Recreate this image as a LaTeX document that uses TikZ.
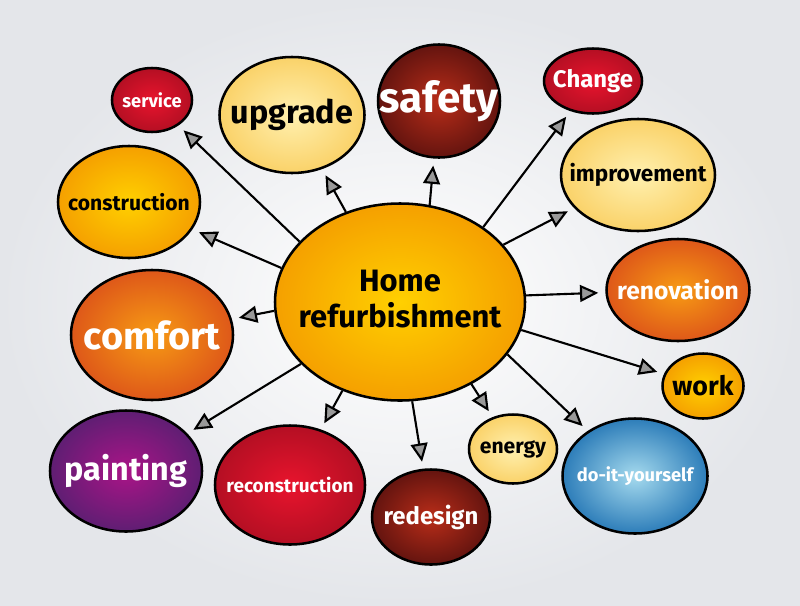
\documentclass[tikz,border=0pt]{standalone}
\usepackage{fontspec}
\setmainfont{Fira Sans}
\usetikzlibrary{shapes.geometric,arrows.meta}

\definecolor{homein}{RGB}{255,208,0}
\definecolor{homeout}{RGB}{245,160,0}
\definecolor{redin}{RGB}{232,20,45}
\definecolor{redout}{RGB}{180,15,35}
\definecolor{paleyin}{RGB}{255,240,175}
\definecolor{paleyout}{RGB}{250,210,105}
\definecolor{brownin}{RGB}{185,45,25}
\definecolor{brownout}{RGB}{100,20,15}
\definecolor{orangein}{RGB}{247,155,20}
\definecolor{orangeout}{RGB}{222,88,25}
\definecolor{purplein}{RGB}{170,20,135}
\definecolor{purpleout}{RGB}{95,30,115}
\definecolor{bluein}{RGB}{165,218,238}
\definecolor{blueout}{RGB}{45,125,185}
\definecolor{bggrey}{RGB}{228,230,234}

\newcommand\bubtext[1]{\makebox[0pt]{#1}}
\newcommand\fs[1]{\bfseries\fontsize{#1}{#1}\selectfont}

\begin{document}
\begin{tikzpicture}[x=0.025cm, y=-0.025cm,
  every node/.style = {shape=ellipse, draw, line width=1.8pt, inner sep=0pt},
  bubble/.style n args = {4}{minimum width=#1*0.025cm, minimum height=#2*0.025cm,
    inner color=#3, outer color=#4},
  arr/.style = {line width=1.5pt, -{Triangle[length=13pt, width=12pt, fill=black!40]},
    shorten >=5pt}]
  \fill[inner color=white, outer color=bggrey] (0,0) rectangle (800,605);

  \node[bubble={250}{197}{homein}{homeout}, font=\fs{22}] (home) at (400,302)
    {\bubtext{\fontsize{22}{26}\selectfont\begin{tabular}{@{}c@{}}Home\\refurbishment\end{tabular}}};

  \node[bubble={80}{64}{redin}{redout}, text=white, font=\fs{13}] (service) at (152,100) {\bubtext{service}};
  \node[bubble={145}{116}{paleyin}{paleyout}, font=\fs{23}] (upgrade) at (292,115) {\bubtext{upgrade}};
  \node[bubble={122}{113}{brownin}{brownout}, text=white, font=\fs{30}] (safety) at (439,101) {\bubtext{safety}};
  \node[bubble={98}{65}{redin}{redout}, text=white, font=\fs{17}] (change) at (593,81) {\bubtext{Change}};
  \node[bubble={154}{112}{paleyin}{paleyout}, font=\fs{16}] (improvement) at (638,175) {\bubtext{improvement}};
  \node[bubble={142}{112}{homein}{homeout}, font=\fs{15}] (construction) at (129,202) {\bubtext{construction}};
  \node[bubble={143}{102}{orangein}{orangeout}, text=white, font=\fs{17.5}] (renovation) at (678,290) {\bubtext{renovation}};
  \node[bubble={162}{130}{orangein}{orangeout}, text=white, font=\fs{27}] (comfort) at (152,335) {\bubtext{comfort}};
  \node[bubble={81}{65}{homein}{homeout}, font=\fs{19}] (work) at (703,386) {\bubtext{work}};
  \node[bubble={152}{121}{purplein}{purpleout}, text=white, font=\fs{23}] (painting) at (126,471) {\bubtext{painting}};
  \node[bubble={150}{119}{redin}{redout}, text=white, font=\fs{13.5}] (reconstruction) at (290,485) {\bubtext{reconstruction}};
  \node[bubble={118}{95}{brownin}{brownout}, text=white, font=\fs{17}] (redesign) at (431,517) {\bubtext{redesign}};
  \node[bubble={88}{69}{paleyin}{paleyout}, font=\fs{15}] (energy) at (513,449) {\bubtext{energy}};
  \node[bubble={145}{115}{bluein}{blueout}, text=white, font=\fs{13}] (diy) at (635,476) {\bubtext{do-it-yourself}};

  \draw[arr] (home.149) -- (service);
  \draw[arr] (home.164) -- (construction);
  \draw[arr] (home.121) -- (upgrade);
  \draw[arr] (home.73) -- (safety);
  \draw[arr] (home.42) -- (change);
  \draw[arr] (home.29) -- (improvement);
  \draw[arr] (home.3) -- (renovation);
  \draw[arr] (home.184) -- (comfort);
  \draw[arr] (home.212) -- (painting);
  \draw[arr] (home.237) -- (reconstruction);
  \draw[arr] (home.277) -- (redesign);
  \draw[arr] (home.311) -- (energy);
  \draw[arr] (home.334) -- (diy);
  \draw[arr] (home.347) -- (work);
\end{tikzpicture}
\end{document}
